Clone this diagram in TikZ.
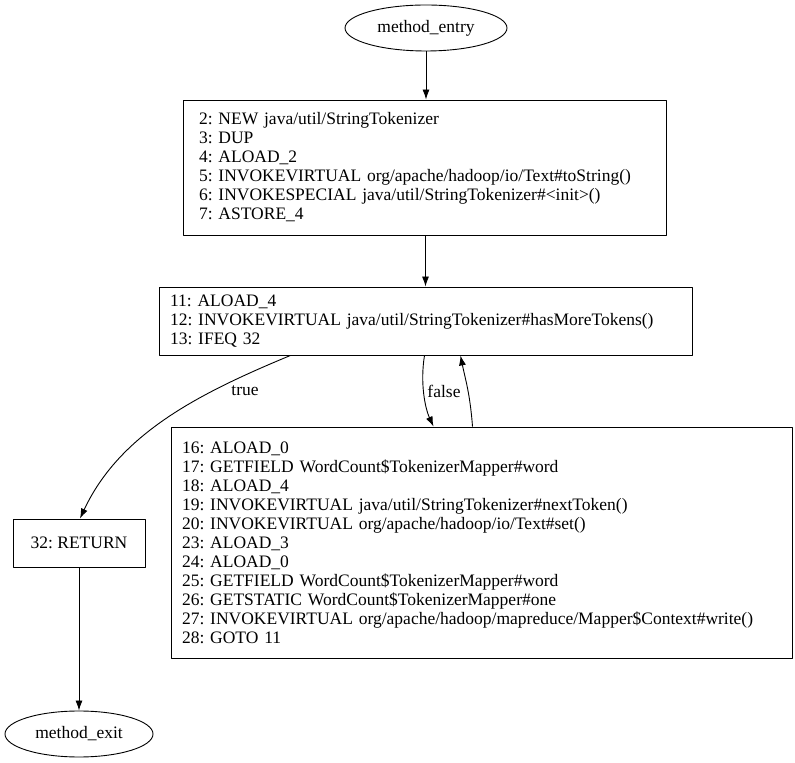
\documentclass[tikz,border=0pt]{standalone}
\usepackage{fontspec}
\setmainfont{Liberation Serif}
\usetikzlibrary{shapes.geometric,arrows.meta}
\begin{document}
\fontsize{17.5bp}{19bp}\selectfont\frenchspacing
\begin{tikzpicture}[>={Latex[length=10bp,width=7bp]},line join=bevel,line width=0.9bp,
  blk/.style={draw,rectangle,align=left,inner xsep=11bp,inner ysep=0bp,anchor=center},
  oval/.style={draw,ellipse,inner sep=0bp}]
\useasboundingbox (0bp,0bp) rectangle (795bp,763bp);
%%
\node (entry) at (426bp,735bp) [oval,minimum width=162bp,minimum height=46bp] {method\_entry};
  \node (b2) at (424.5bp,595.5bp) [blk,minimum width=483bp,minimum height=135bp,text width=451bp] {2: NEW java/util/StringTokenizer\\3: DUP\\4: ALOAD\_2\\5: INVOKEVIRTUAL org/apache/hadoop/io/Text\#toString()\\6: INVOKESPECIAL java/util/StringTokenizer\#<init>()\\7: ASTORE\_4};
  \node (b11) at (425.5bp,442bp) [blk,minimum width=533bp,minimum height=68bp,text width=511bp] {11: ALOAD\_4\\12: INVOKEVIRTUAL java/util/StringTokenizer\#hasMoreTokens()\\13: IFEQ 32};
  \node (b16) at (481.5bp,220.5bp) [blk,minimum width=621bp,minimum height=231bp,text width=599bp] {16: ALOAD\_0\\17: GETFIELD WordCount\$TokenizerMapper\#word\\18: ALOAD\_4\\19: INVOKEVIRTUAL java/util/StringTokenizer\#nextToken()\\20: INVOKEVIRTUAL org/apache/hadoop/io/Text\#set()\\23: ALOAD\_3\\24: ALOAD\_0\\25: GETFIELD WordCount\$TokenizerMapper\#word\\26: GETSTATIC WordCount\$TokenizerMapper\#one\\27: INVOKEVIRTUAL org/apache/hadoop/mapreduce/Mapper\$Context\#write()\\28: GOTO 11};
  \node (b32) at (79bp,220bp) [blk,minimum width=132bp,minimum height=48bp,align=center] {32: RETURN};
  \node (exit) at (79bp,29bp) [oval,minimum width=148bp,minimum height=46bp] {method\_exit};
  \draw [->] (entry) -- (b2.north -| entry);
  \draw [->] (b2.south -| b11) -- (b11.north -| b11);
  \draw [->] ([xshift=-135bp]b11.south) .. controls (200bp,370bp) and (120bp,330bp) .. ([xshift=1bp]b32.north);
  \draw [->] ([xshift=-1bp]b11.south) .. controls (420bp,380bp) and (425bp,355bp) .. ([xshift=-48bp]b16.north);
  \draw [->] ([xshift=-9bp]b16.north) .. controls (470bp,370bp) and (465bp,385bp) .. ([xshift=35bp]b11.south);
  \draw [->] (b32) -- (exit);
  \draw (245bp,372bp) node {true};
  \draw (444bp,372bp) node {false};
%
\end{tikzpicture}
\end{document}
